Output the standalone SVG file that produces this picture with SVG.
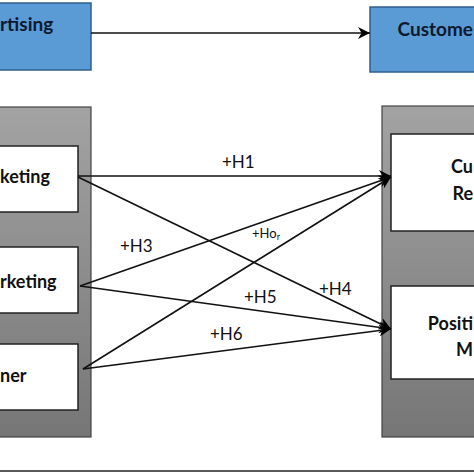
<svg xmlns="http://www.w3.org/2000/svg" width="474" height="474" viewBox="0 0 474 474">
<defs>
<linearGradient id="g" x1="0" y1="0" x2="0" y2="1">
<stop offset="0" stop-color="#a3a3a3"/>
<stop offset="1" stop-color="#767676"/>
</linearGradient>
<marker id="ah" viewBox="0 0 10 10" refX="10" refY="5" markerWidth="13" markerHeight="12" markerUnits="userSpaceOnUse" orient="auto">
<path d="M0,0 L10,5 L0,10 L3,5 z" fill="#000"/>
</marker>
<style>
.blue{fill:#5b9bd5;stroke:#2f5f8f;stroke-width:1.5}
.panel{fill:url(#g);stroke:#444;stroke-width:1.2}
.box{fill:#fff;stroke:#222;stroke-width:1.5}
.t{font-family:Lato,"Open Sans","DejaVu Sans",sans-serif;font-weight:bold;font-size:18px;fill:#111}
.tt{font-family:Lato,"Open Sans","DejaVu Sans",sans-serif;font-weight:bold;font-size:19px;fill:#0d1a2e}
.e{text-anchor:end}
.lbl{font-family:Lato,"Open Sans","DejaVu Sans",sans-serif;font-size:17px;fill:#111}
.sm{font-size:13px}
.c{stroke:#111;stroke-width:1.6;fill:none;marker-end:url(#ah)}
</style>
</defs>
<g id="advertising">
<rect class="blue" x="-5" y="3" width="96" height="67"/>
<text class="tt" x="0" y="31">rtising</text>
</g>
<g id="customer-top">
<rect class="blue" x="370" y="7" width="110" height="65"/>
<text class="tt e" x="473" y="36">Custome</text>
</g>
<g id="left-panel">
<rect class="panel" x="-5" y="107" width="96" height="330"/>
</g>
<g id="right-panel">
<rect class="panel" x="382" y="106" width="100" height="331"/>
</g>
<g id="left-box1">
<rect class="box" x="-5" y="146" width="83" height="66"/>
<text class="t" x="0" y="183">keting</text>
</g>
<g id="left-box2">
<rect class="box" x="-5" y="247" width="83" height="66"/>
<text class="t" x="0" y="288">rketing</text>
</g>
<g id="left-box3">
<rect class="box" x="-5" y="344" width="83" height="66"/>
<text class="t" x="0" y="382">ner</text>
</g>
<g id="right-box1">
<rect class="box" x="391" y="134" width="90" height="97"/>
<text class="t e" x="473" y="173">Cu</text>
<text class="t e" x="473" y="200">Re</text>
</g>
<g id="right-box2">
<rect class="box" x="391" y="286" width="90" height="93"/>
<text class="t e" x="473" y="330">Positi</text>
<text class="t e" x="473" y="356">M</text>
</g>
<g id="connectors">
<line class="c" x1="91" y1="33" x2="370" y2="33"/>
<line class="c" x1="78" y1="176" x2="391" y2="176"/>
<line class="c" x1="78" y1="177" x2="391" y2="329"/>
<line class="c" x1="80" y1="286" x2="391" y2="177"/>
<line class="c" x1="80" y1="286" x2="391" y2="329"/>
<line class="c" x1="83" y1="369" x2="391" y2="177"/>
<line class="c" x1="83" y1="369" x2="391" y2="329"/>
<line x1="0" y1="471" x2="474" y2="471" stroke="#222" stroke-width="1.6"/>
</g>
<g id="labels">
<text class="lbl" x="222" y="168">+H1</text>
<text class="lbl" x="120" y="252">+H3</text>
<text class="lbl sm" x="252" y="238">+Ho<tspan style="font-size:9px" dy="2">r</tspan></text>
<text class="lbl" x="319" y="295">+H4</text>
<text class="lbl" x="244" y="303">+H5</text>
<text class="lbl" x="210" y="340">+H6</text>
</g>
</svg>
